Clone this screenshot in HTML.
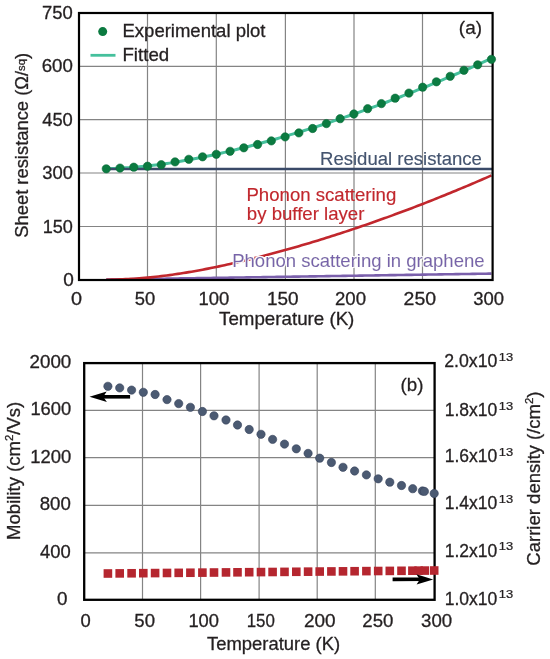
<!DOCTYPE html><html><head><meta charset="utf-8"><style>html,body{margin:0;padding:0;background:#fff;}svg{display:block;}text{font-family:"Liberation Sans",Arial,Helvetica,sans-serif;paint-order:stroke;}</style></head><body>
<svg width="550" height="659" viewBox="0 0 550 659">
<rect width="550" height="659" fill="#fff"/>
<line x1="147.5" y1="13" x2="147.5" y2="280" stroke="#848484" stroke-width="1.2"/>
<line x1="216.3" y1="13" x2="216.3" y2="280" stroke="#848484" stroke-width="1.2"/>
<line x1="285.4" y1="13" x2="285.4" y2="280" stroke="#848484" stroke-width="1.2"/>
<line x1="354.0" y1="13" x2="354.0" y2="280" stroke="#848484" stroke-width="1.2"/>
<line x1="422.5" y1="13" x2="422.5" y2="280" stroke="#848484" stroke-width="1.2"/>
<line x1="79" y1="66.3" x2="492.6" y2="66.3" stroke="#848484" stroke-width="1.2"/>
<line x1="79" y1="119.7" x2="492.6" y2="119.7" stroke="#848484" stroke-width="1.2"/>
<line x1="79" y1="173.0" x2="492.6" y2="173.0" stroke="#848484" stroke-width="1.2"/>
<line x1="79" y1="226.5" x2="492.6" y2="226.5" stroke="#848484" stroke-width="1.2"/>
<polyline points="106.26,168.73 109.02,168.63 111.77,168.52 114.52,168.41 117.27,168.28 120.02,168.14 122.77,167.99 125.52,167.83 128.28,167.66 131.03,167.47 133.78,167.26 136.53,167.04 139.28,166.80 142.03,166.54 144.78,166.27 147.53,165.98 150.29,165.68 153.04,165.36 155.79,165.02 158.54,164.67 161.29,164.30 164.04,163.92 166.79,163.52 169.55,163.11 172.30,162.68 175.05,162.24 177.80,161.79 180.55,161.32 183.30,160.85 186.05,160.35 188.81,159.85 191.56,159.34 194.31,158.81 197.06,158.27 199.81,157.72 202.56,157.17 205.31,156.60 208.07,156.02 210.82,155.43 213.57,154.83 216.32,154.22 219.07,153.60 221.82,152.97 224.57,152.34 227.33,151.69 230.08,151.04 232.83,150.37 235.58,149.70 238.33,149.02 241.08,148.34 243.83,147.64 246.59,146.94 249.34,146.22 252.09,145.50 254.84,144.78 257.59,144.04 260.34,143.30 263.09,142.55 265.85,141.79 268.60,141.03 271.35,140.26 274.10,139.48 276.85,138.69 279.60,137.90 282.35,137.10 285.11,136.29 287.86,135.48 290.61,134.66 293.36,133.84 296.11,133.00 298.86,132.16 301.61,131.32 304.36,130.46 307.12,129.60 309.87,128.74 312.62,127.86 315.37,126.99 318.12,126.10 320.87,125.21 323.62,124.31 326.38,123.41 329.13,122.50 331.88,121.58 334.63,120.66 337.38,119.73 340.13,118.80 342.88,117.86 345.64,116.91 348.39,115.96 351.14,115.00 353.89,114.03 356.64,113.06 359.39,112.08 362.14,111.10 364.90,110.11 367.65,109.12 370.40,108.12 373.15,107.11 375.90,106.10 378.65,105.08 381.40,104.06 384.16,103.03 386.91,101.99 389.66,100.95 392.41,99.90 395.16,98.85 397.91,97.79 400.66,96.73 403.42,95.66 406.17,94.58 408.92,93.50 411.67,92.41 414.42,91.32 417.17,90.22 419.92,89.12 422.67,88.01 425.43,86.89 428.18,85.77 430.93,84.64 433.68,83.51 436.43,82.37 439.18,81.23 441.93,80.08 444.69,78.93 447.44,77.77 450.19,76.60 452.94,75.43 455.69,74.25 458.44,73.07 461.19,71.88 463.95,70.69 466.70,69.49 469.45,68.28 472.20,67.07 474.95,65.86 477.70,64.63 480.45,63.41 483.21,62.17 485.96,60.94 488.71,59.69 491.46,58.44" fill="none" stroke="#45c09c" stroke-width="3"/>
<line x1="106.26" y1="169" x2="492.6" y2="169" stroke="#3a4a68" stroke-width="2.4"/>
<polyline points="106.26,279.57 109.02,279.53 111.77,279.49 114.52,279.44 117.27,279.40 120.02,279.36 122.77,279.32 125.52,279.27 128.28,279.23 131.03,279.19 133.78,279.15 136.53,279.10 139.28,279.06 142.03,279.02 144.78,278.97 147.53,278.93 150.29,278.89 153.04,278.85 155.79,278.80 158.54,278.76 161.29,278.72 164.04,278.68 166.79,278.63 169.55,278.59 172.30,278.55 175.05,278.50 177.80,278.46 180.55,278.42 183.30,278.38 186.05,278.33 188.81,278.29 191.56,278.25 194.31,278.21 197.06,278.16 199.81,278.12 202.56,278.08 205.31,278.03 208.07,277.99 210.82,277.95 213.57,277.91 216.32,277.86 219.07,277.82 221.82,277.78 224.57,277.74 227.33,277.69 230.08,277.65 232.83,277.61 235.58,277.56 238.33,277.52 241.08,277.48 243.83,277.44 246.59,277.39 249.34,277.35 252.09,277.31 254.84,277.27 257.59,277.22 260.34,277.18 263.09,277.14 265.85,277.10 268.60,277.05 271.35,277.01 274.10,276.97 276.85,276.92 279.60,276.88 282.35,276.84 285.11,276.80 287.86,276.75 290.61,276.71 293.36,276.67 296.11,276.63 298.86,276.58 301.61,276.54 304.36,276.50 307.12,276.45 309.87,276.41 312.62,276.37 315.37,276.33 318.12,276.28 320.87,276.24 323.62,276.20 326.38,276.16 329.13,276.11 331.88,276.07 334.63,276.03 337.38,275.98 340.13,275.94 342.88,275.90 345.64,275.86 348.39,275.81 351.14,275.77 353.89,275.73 356.64,275.69 359.39,275.64 362.14,275.60 364.90,275.56 367.65,275.51 370.40,275.47 373.15,275.43 375.90,275.39 378.65,275.34 381.40,275.30 384.16,275.26 386.91,275.22 389.66,275.17 392.41,275.13 395.16,275.09 397.91,275.04 400.66,275.00 403.42,274.96 406.17,274.92 408.92,274.87 411.67,274.83 414.42,274.79 417.17,274.75 419.92,274.70 422.67,274.66 425.43,274.62 428.18,274.57 430.93,274.53 433.68,274.49 436.43,274.45 439.18,274.40 441.93,274.36 444.69,274.32 447.44,274.28 450.19,274.23 452.94,274.19 455.69,274.15 458.44,274.10 461.19,274.06 463.95,274.02 466.70,273.98 469.45,273.93 472.20,273.89 474.95,273.85 477.70,273.81 480.45,273.76 483.21,273.72 485.96,273.68 488.71,273.63 491.46,273.59" fill="none" stroke="#7a5fab" stroke-width="2.6"/>
<polyline points="106.26,279.73 109.02,279.68 111.77,279.61 114.52,279.54 117.27,279.46 120.02,279.36 122.77,279.26 125.52,279.14 128.28,279.00 131.03,278.85 133.78,278.69 136.53,278.51 139.28,278.32 142.03,278.10 144.78,277.87 147.53,277.63 150.29,277.37 153.04,277.09 155.79,276.79 158.54,276.49 161.29,276.16 164.04,275.82 166.79,275.47 169.55,275.10 172.30,274.71 175.05,274.32 177.80,273.91 180.55,273.48 183.30,273.05 186.05,272.60 188.81,272.14 191.56,271.67 194.31,271.18 197.06,270.69 199.81,270.18 202.56,269.67 205.31,269.14 208.07,268.60 210.82,268.06 213.57,267.50 216.32,266.93 219.07,266.36 221.82,265.77 224.57,265.18 227.33,264.58 230.08,263.96 232.83,263.34 235.58,262.72 238.33,262.08 241.08,261.43 243.83,260.78 246.59,260.12 249.34,259.45 252.09,258.77 254.84,258.09 257.59,257.40 260.34,256.70 263.09,255.99 265.85,255.28 268.60,254.55 271.35,253.83 274.10,253.09 276.85,252.35 279.60,251.60 282.35,250.84 285.11,250.08 287.86,249.31 290.61,248.53 293.36,247.74 296.11,246.95 298.86,246.16 301.61,245.35 304.36,244.54 307.12,243.73 309.87,242.90 312.62,242.07 315.37,241.24 318.12,240.40 320.87,239.55 323.62,238.69 326.38,237.83 329.13,236.96 331.88,236.09 334.63,235.21 337.38,234.32 340.13,233.43 342.88,232.53 345.64,231.63 348.39,230.72 351.14,229.80 353.89,228.88 356.64,227.95 359.39,227.02 362.14,226.08 364.90,225.13 367.65,224.18 370.40,223.22 373.15,222.26 375.90,221.29 378.65,220.32 381.40,219.33 384.16,218.35 386.91,217.35 389.66,216.36 392.41,215.35 395.16,214.34 397.91,213.33 400.66,212.30 403.42,211.28 406.17,210.24 408.92,209.20 411.67,208.16 414.42,207.11 417.17,206.05 419.92,204.99 422.67,203.93 425.43,202.85 428.18,201.77 430.93,200.69 433.68,199.60 436.43,198.51 439.18,197.40 441.93,196.30 444.69,195.19 447.44,194.07 450.19,192.94 452.94,191.82 455.69,190.68 458.44,189.54 461.19,188.40 463.95,187.24 466.70,186.09 469.45,184.93 472.20,183.76 474.95,182.58 477.70,181.41 480.45,180.22 483.21,179.03 485.96,177.84 488.71,176.64 491.46,175.43" fill="none" stroke="#c1272d" stroke-width="2.6"/>
<rect x="79" y="13" width="413.6" height="267" fill="none" stroke="#000" stroke-width="2.2"/>
<circle cx="106.26" cy="168.8" r="4.15" fill="#0b7b41" stroke="#086a37" stroke-width="0.6"/>
<circle cx="120.02" cy="168.1" r="4.15" fill="#0b7b41" stroke="#086a37" stroke-width="0.6"/>
<circle cx="133.78" cy="167.2" r="4.15" fill="#0b7b41" stroke="#086a37" stroke-width="0.6"/>
<circle cx="147.53" cy="166.2" r="4.15" fill="#0b7b41" stroke="#086a37" stroke-width="0.6"/>
<circle cx="161.29" cy="164.7" r="4.15" fill="#0b7b41" stroke="#086a37" stroke-width="0.6"/>
<circle cx="175.05" cy="161.9" r="4.15" fill="#0b7b41" stroke="#086a37" stroke-width="0.6"/>
<circle cx="188.81" cy="159.3" r="4.15" fill="#0b7b41" stroke="#086a37" stroke-width="0.6"/>
<circle cx="202.56" cy="156.8" r="4.15" fill="#0b7b41" stroke="#086a37" stroke-width="0.6"/>
<circle cx="216.32" cy="154.3" r="4.15" fill="#0b7b41" stroke="#086a37" stroke-width="0.6"/>
<circle cx="230.08" cy="151.3" r="4.15" fill="#0b7b41" stroke="#086a37" stroke-width="0.6"/>
<circle cx="243.83" cy="147.8" r="4.15" fill="#0b7b41" stroke="#086a37" stroke-width="0.6"/>
<circle cx="257.59" cy="144.5" r="4.15" fill="#0b7b41" stroke="#086a37" stroke-width="0.6"/>
<circle cx="271.35" cy="140.9" r="4.15" fill="#0b7b41" stroke="#086a37" stroke-width="0.6"/>
<circle cx="285.11" cy="136.9" r="4.15" fill="#0b7b41" stroke="#086a37" stroke-width="0.6"/>
<circle cx="298.86" cy="132.9" r="4.15" fill="#0b7b41" stroke="#086a37" stroke-width="0.6"/>
<circle cx="312.62" cy="128.5" r="4.15" fill="#0b7b41" stroke="#086a37" stroke-width="0.6"/>
<circle cx="326.38" cy="123.6" r="4.15" fill="#0b7b41" stroke="#086a37" stroke-width="0.6"/>
<circle cx="340.13" cy="118.7" r="4.15" fill="#0b7b41" stroke="#086a37" stroke-width="0.6"/>
<circle cx="353.89" cy="114" r="4.15" fill="#0b7b41" stroke="#086a37" stroke-width="0.6"/>
<circle cx="367.65" cy="108.7" r="4.15" fill="#0b7b41" stroke="#086a37" stroke-width="0.6"/>
<circle cx="381.40" cy="103.6" r="4.15" fill="#0b7b41" stroke="#086a37" stroke-width="0.6"/>
<circle cx="395.16" cy="98.2" r="4.15" fill="#0b7b41" stroke="#086a37" stroke-width="0.6"/>
<circle cx="408.92" cy="93.1" r="4.15" fill="#0b7b41" stroke="#086a37" stroke-width="0.6"/>
<circle cx="422.67" cy="87.2" r="4.15" fill="#0b7b41" stroke="#086a37" stroke-width="0.6"/>
<circle cx="436.43" cy="81.8" r="4.15" fill="#0b7b41" stroke="#086a37" stroke-width="0.6"/>
<circle cx="450.19" cy="76.3" r="4.15" fill="#0b7b41" stroke="#086a37" stroke-width="0.6"/>
<circle cx="463.95" cy="70.3" r="4.15" fill="#0b7b41" stroke="#086a37" stroke-width="0.6"/>
<circle cx="477.70" cy="64.8" r="4.15" fill="#0b7b41" stroke="#086a37" stroke-width="0.6"/>
<circle cx="491.46" cy="59.3" r="4.15" fill="#0b7b41" stroke="#086a37" stroke-width="0.6"/>
<circle cx="102.7" cy="31.6" r="4.5" fill="#0b7a40"/>
<line x1="90.5" y1="55.3" x2="115.5" y2="55.3" stroke="#45c09c" stroke-width="2.8"/>
<text transform="translate(122.48,36.80) scale(1.0293,1)" font-size="18.0" fill="#231f20" stroke="#231f20" stroke-width="0.3">Experimental plot</text>
<text transform="translate(122.47,60.60) scale(1.0380,1)" font-size="18.0" fill="#231f20" stroke="#231f20" stroke-width="0.3">Fitted</text>
<text transform="translate(458.83,33.60) scale(1.0524,1)" font-size="18.0" fill="#231f20" stroke="#231f20" stroke-width="0.25">(a)</text>
<text transform="translate(319.98,164.80) scale(1.0544,1)" font-size="17.6" fill="#44546f" stroke="#44546f" stroke-width="0.15">Residual resistance</text>
<text transform="translate(246.47,201.40) scale(1.0567,1)" font-size="17.6" fill="#c1272d" stroke="#c1272d" stroke-width="0.15">Phonon scattering</text>
<text transform="translate(246.79,219.80) scale(1.0587,1)" font-size="17.6" fill="#c1272d" stroke="#c1272d" stroke-width="0.15">by buffer layer</text>
<defs><filter id="halo" x="-5%" y="-30%" width="110%" height="160%"><feMorphology in="SourceAlpha" operator="dilate" radius="1.1" result="d"/><feFlood flood-color="#fff"/><feComposite in2="d" operator="in" result="w"/><feMerge><feMergeNode in="w"/><feMergeNode in="SourceGraphic"/></feMerge></filter></defs>
<text transform="translate(232.18,267.30) scale(1.0538,1)" font-size="17.6" fill="#7762aa" stroke="#7762aa" stroke-width="0.15" filter="url(#halo)">Phonon scattering in graphene</text>
<text transform="translate(41.96,18.80) scale(1.0245,1)" font-size="18.0" fill="#231f20" stroke="#231f20" stroke-width="0.3">750</text>
<text transform="translate(41.65,72.40) scale(1.0386,1)" font-size="18.0" fill="#231f20" stroke="#231f20" stroke-width="0.3">600</text>
<text transform="translate(42.18,125.90) scale(1.0205,1)" font-size="18.0" fill="#231f20" stroke="#231f20" stroke-width="0.3">450</text>
<text transform="translate(42.20,179.20) scale(1.0231,1)" font-size="18.0" fill="#231f20" stroke="#231f20" stroke-width="0.3">300</text>
<text transform="translate(42.72,232.60) scale(1.0052,1)" font-size="18.0" fill="#231f20" stroke="#231f20" stroke-width="0.3">150</text>
<text transform="translate(63.26,285.80) scale(1.0576,1)" font-size="18.0" fill="#231f20" stroke="#231f20" stroke-width="0.3">0</text>
<text transform="translate(71.02,304.80) scale(1.1041,1)" font-size="18.0" fill="#231f20" stroke="#231f20" stroke-width="0.3">0</text>
<text transform="translate(134.76,304.80) scale(1.0218,1)" font-size="18.0" fill="#231f20" stroke="#231f20" stroke-width="0.3">50</text>
<text transform="translate(198.50,304.80) scale(1.0267,1)" font-size="18.0" fill="#231f20" stroke="#231f20" stroke-width="0.3">100</text>
<text transform="translate(267.06,304.80) scale(1.0517,1)" font-size="18.0" fill="#231f20" stroke="#231f20" stroke-width="0.3">150</text>
<text transform="translate(334.97,304.80) scale(1.0344,1)" font-size="18.0" fill="#231f20" stroke="#231f20" stroke-width="0.3">200</text>
<text transform="translate(403.62,304.80) scale(1.0837,1)" font-size="18.0" fill="#231f20" stroke="#231f20" stroke-width="0.3">250</text>
<text transform="translate(473.30,304.80) scale(1.0266,1)" font-size="18.0" fill="#231f20" stroke="#231f20" stroke-width="0.3">300</text>
<text transform="translate(219.09,324.90) scale(1.0409,1)" font-size="18.0" fill="#231f20" stroke="#231f20" stroke-width="0.3">Temperature (K)</text>
<text transform="translate(28.0,237.7) rotate(-90) scale(0.988,1)" font-size="18.6" fill="#231f20" stroke="#231f20" stroke-width="0.3">Sheet resistance (Ω/<tspan font-size="11.4" dy="-2.6">sq</tspan><tspan dy="2.6">)</tspan></text>
<line x1="142.5" y1="363.1" x2="142.5" y2="599.8" stroke="#848484" stroke-width="1.2"/>
<line x1="200.6" y1="363.1" x2="200.6" y2="599.8" stroke="#848484" stroke-width="1.2"/>
<line x1="259.1" y1="363.1" x2="259.1" y2="599.8" stroke="#848484" stroke-width="1.2"/>
<line x1="317.2" y1="363.1" x2="317.2" y2="599.8" stroke="#848484" stroke-width="1.2"/>
<line x1="375.3" y1="363.1" x2="375.3" y2="599.8" stroke="#848484" stroke-width="1.2"/>
<line x1="84.2" y1="410.4" x2="434.6" y2="410.4" stroke="#848484" stroke-width="1.2"/>
<line x1="84.2" y1="457.6" x2="434.6" y2="457.6" stroke="#848484" stroke-width="1.2"/>
<line x1="84.2" y1="505.3" x2="434.6" y2="505.3" stroke="#848484" stroke-width="1.2"/>
<line x1="84.2" y1="552.8" x2="434.6" y2="552.8" stroke="#848484" stroke-width="1.2"/>
<rect x="84.2" y="363.1" width="350.4" height="236.7" fill="none" stroke="#000" stroke-width="2.3"/>
<circle cx="107.9" cy="386.3" r="4.15" fill="#4b5a72" stroke="#36425a" stroke-width="0.6"/>
<circle cx="119.7" cy="387.9" r="4.15" fill="#4b5a72" stroke="#36425a" stroke-width="0.6"/>
<circle cx="131.6" cy="390.1" r="4.15" fill="#4b5a72" stroke="#36425a" stroke-width="0.6"/>
<circle cx="143.3" cy="392.3" r="4.15" fill="#4b5a72" stroke="#36425a" stroke-width="0.6"/>
<circle cx="155.1" cy="394.5" r="4.15" fill="#4b5a72" stroke="#36425a" stroke-width="0.6"/>
<circle cx="167" cy="399.6" r="4.15" fill="#4b5a72" stroke="#36425a" stroke-width="0.6"/>
<circle cx="178.7" cy="403.6" r="4.15" fill="#4b5a72" stroke="#36425a" stroke-width="0.6"/>
<circle cx="190.4" cy="407.3" r="4.15" fill="#4b5a72" stroke="#36425a" stroke-width="0.6"/>
<circle cx="202.4" cy="411.5" r="4.15" fill="#4b5a72" stroke="#36425a" stroke-width="0.6"/>
<circle cx="214" cy="415.8" r="4.15" fill="#4b5a72" stroke="#36425a" stroke-width="0.6"/>
<circle cx="226" cy="420" r="4.15" fill="#4b5a72" stroke="#36425a" stroke-width="0.6"/>
<circle cx="237.5" cy="425" r="4.15" fill="#4b5a72" stroke="#36425a" stroke-width="0.6"/>
<circle cx="249.2" cy="429.5" r="4.15" fill="#4b5a72" stroke="#36425a" stroke-width="0.6"/>
<circle cx="261" cy="434.3" r="4.15" fill="#4b5a72" stroke="#36425a" stroke-width="0.6"/>
<circle cx="272.6" cy="439.4" r="4.15" fill="#4b5a72" stroke="#36425a" stroke-width="0.6"/>
<circle cx="284.5" cy="444.1" r="4.15" fill="#4b5a72" stroke="#36425a" stroke-width="0.6"/>
<circle cx="296.3" cy="448.8" r="4.15" fill="#4b5a72" stroke="#36425a" stroke-width="0.6"/>
<circle cx="308.1" cy="453.4" r="4.15" fill="#4b5a72" stroke="#36425a" stroke-width="0.6"/>
<circle cx="319.7" cy="458.2" r="4.15" fill="#4b5a72" stroke="#36425a" stroke-width="0.6"/>
<circle cx="331.4" cy="462.5" r="4.15" fill="#4b5a72" stroke="#36425a" stroke-width="0.6"/>
<circle cx="343" cy="467.3" r="4.15" fill="#4b5a72" stroke="#36425a" stroke-width="0.6"/>
<circle cx="354.6" cy="471" r="4.15" fill="#4b5a72" stroke="#36425a" stroke-width="0.6"/>
<circle cx="366.4" cy="474.9" r="4.15" fill="#4b5a72" stroke="#36425a" stroke-width="0.6"/>
<circle cx="378.2" cy="478.8" r="4.15" fill="#4b5a72" stroke="#36425a" stroke-width="0.6"/>
<circle cx="389.8" cy="482.2" r="4.15" fill="#4b5a72" stroke="#36425a" stroke-width="0.6"/>
<circle cx="401.5" cy="485.5" r="4.15" fill="#4b5a72" stroke="#36425a" stroke-width="0.6"/>
<circle cx="412.7" cy="488.7" r="4.15" fill="#4b5a72" stroke="#36425a" stroke-width="0.6"/>
<circle cx="422.4" cy="491.0" r="4.15" fill="#4b5a72" stroke="#36425a" stroke-width="0.6"/>
<circle cx="424.4" cy="491.4" r="4.15" fill="#4b5a72" stroke="#36425a" stroke-width="0.6"/>
<circle cx="434.2" cy="493.5" r="4.15" fill="#4b5a72" stroke="#36425a" stroke-width="0.6"/>
<rect x="103.60" y="569.20" width="8.6" height="8.6" fill="#b5262f"/>
<rect x="115.40" y="569.09" width="8.6" height="8.6" fill="#b5262f"/>
<rect x="127.30" y="568.98" width="8.6" height="8.6" fill="#b5262f"/>
<rect x="139.00" y="568.88" width="8.6" height="8.6" fill="#b5262f"/>
<rect x="150.80" y="568.77" width="8.6" height="8.6" fill="#b5262f"/>
<rect x="162.70" y="568.66" width="8.6" height="8.6" fill="#b5262f"/>
<rect x="174.40" y="568.55" width="8.6" height="8.6" fill="#b5262f"/>
<rect x="186.10" y="568.44" width="8.6" height="8.6" fill="#b5262f"/>
<rect x="198.10" y="568.33" width="8.6" height="8.6" fill="#b5262f"/>
<rect x="209.70" y="568.22" width="8.6" height="8.6" fill="#b5262f"/>
<rect x="221.70" y="568.11" width="8.6" height="8.6" fill="#b5262f"/>
<rect x="233.20" y="568.01" width="8.6" height="8.6" fill="#b5262f"/>
<rect x="244.90" y="567.90" width="8.6" height="8.6" fill="#b5262f"/>
<rect x="256.70" y="567.79" width="8.6" height="8.6" fill="#b5262f"/>
<rect x="268.30" y="567.69" width="8.6" height="8.6" fill="#b5262f"/>
<rect x="280.20" y="567.58" width="8.6" height="8.6" fill="#b5262f"/>
<rect x="292.00" y="567.47" width="8.6" height="8.6" fill="#b5262f"/>
<rect x="303.80" y="567.36" width="8.6" height="8.6" fill="#b5262f"/>
<rect x="315.40" y="567.25" width="8.6" height="8.6" fill="#b5262f"/>
<rect x="327.10" y="567.14" width="8.6" height="8.6" fill="#b5262f"/>
<rect x="338.70" y="567.04" width="8.6" height="8.6" fill="#b5262f"/>
<rect x="350.30" y="566.93" width="8.6" height="8.6" fill="#b5262f"/>
<rect x="362.10" y="566.82" width="8.6" height="8.6" fill="#b5262f"/>
<rect x="373.90" y="566.71" width="8.6" height="8.6" fill="#b5262f"/>
<rect x="385.50" y="566.61" width="8.6" height="8.6" fill="#b5262f"/>
<rect x="397.20" y="566.50" width="8.6" height="8.6" fill="#b5262f"/>
<rect x="408.10" y="566.40" width="8.6" height="8.6" fill="#b5262f"/>
<rect x="414.30" y="566.34" width="8.6" height="8.6" fill="#b5262f"/>
<rect x="420.50" y="566.28" width="8.6" height="8.6" fill="#b5262f"/>
<rect x="429.90" y="566.20" width="8.6" height="8.6" fill="#b5262f"/>
<line x1="99" y1="396.8" x2="130.1" y2="396.8" stroke="#000" stroke-width="3.6"/>
<path d="M89.5,396.8 L106.7,391.6 L103.2,396.8 L106.9,402 Z" fill="#000"/>
<line x1="392.6" y1="579.4" x2="423" y2="579.3" stroke="#000" stroke-width="3.6"/>
<path d="M433.2,579.4 L416.4,574.3 L419.8,579.4 L416.6,584.4 Z" fill="#000"/>
<text transform="translate(400.54,391.20) scale(1.0423,1)" font-size="18.0" fill="#231f20" stroke="#231f20" stroke-width="0.25">(b)</text>
<text transform="translate(29.56,367.50) scale(1.0435,1)" font-size="18.0" fill="#231f20" stroke="#231f20" stroke-width="0.3">2000</text>
<text transform="translate(30.41,415.30) scale(1.0194,1)" font-size="18.0" fill="#231f20" stroke="#231f20" stroke-width="0.3">1600</text>
<text transform="translate(30.20,462.90) scale(1.0247,1)" font-size="18.0" fill="#231f20" stroke="#231f20" stroke-width="0.3">1200</text>
<text transform="translate(39.70,510.20) scale(1.0369,1)" font-size="18.0" fill="#231f20" stroke="#231f20" stroke-width="0.3">800</text>
<text transform="translate(40.08,557.60) scale(1.0239,1)" font-size="18.0" fill="#231f20" stroke="#231f20" stroke-width="0.3">400</text>
<text transform="translate(56.97,605.00) scale(1.0460,1)" font-size="18.0" fill="#231f20" stroke="#231f20" stroke-width="0.3">0</text>
<text transform="translate(444.21,367.00) scale(0.9841,1)" font-size="18.0" fill="#231f20" stroke="#231f20" stroke-width="0.3">2.0x10</text>
<text transform="translate(498.72,360.50) scale(1.1123,1)" font-size="11.6" fill="#231f20" stroke="#231f20" stroke-width="0.25">13</text>
<text transform="translate(444.77,416.10) scale(0.9737,1)" font-size="18.0" fill="#231f20" stroke="#231f20" stroke-width="0.3">1.8x10</text>
<text transform="translate(498.72,409.60) scale(1.1123,1)" font-size="11.6" fill="#231f20" stroke="#231f20" stroke-width="0.25">13</text>
<text transform="translate(444.77,462.40) scale(0.9737,1)" font-size="18.0" fill="#231f20" stroke="#231f20" stroke-width="0.3">1.6x10</text>
<text transform="translate(498.72,455.90) scale(1.1123,1)" font-size="11.6" fill="#231f20" stroke="#231f20" stroke-width="0.25">13</text>
<text transform="translate(444.77,509.40) scale(0.9737,1)" font-size="18.0" fill="#231f20" stroke="#231f20" stroke-width="0.3">1.4x10</text>
<text transform="translate(498.72,502.90) scale(1.1123,1)" font-size="11.6" fill="#231f20" stroke="#231f20" stroke-width="0.25">13</text>
<text transform="translate(444.77,556.50) scale(0.9737,1)" font-size="18.0" fill="#231f20" stroke="#231f20" stroke-width="0.3">1.2x10</text>
<text transform="translate(498.72,550.00) scale(1.1123,1)" font-size="11.6" fill="#231f20" stroke="#231f20" stroke-width="0.25">13</text>
<text transform="translate(444.77,604.90) scale(0.9737,1)" font-size="18.0" fill="#231f20" stroke="#231f20" stroke-width="0.3">1.0x10</text>
<text transform="translate(498.72,598.40) scale(1.1123,1)" font-size="11.6" fill="#231f20" stroke="#231f20" stroke-width="0.25">13</text>
<text transform="translate(80.48,627.00) scale(1.0228,1)" font-size="18.0" fill="#231f20" stroke="#231f20" stroke-width="0.3">0</text>
<text transform="translate(134.36,627.00) scale(1.0326,1)" font-size="18.0" fill="#231f20" stroke="#231f20" stroke-width="0.3">50</text>
<text transform="translate(188.41,627.00) scale(1.0195,1)" font-size="18.0" fill="#231f20" stroke="#231f20" stroke-width="0.3">100</text>
<text transform="translate(246.72,627.00) scale(0.9373,1)" font-size="18.0" fill="#231f20" stroke="#231f20" stroke-width="0.3">150</text>
<text transform="translate(303.95,627.00) scale(1.0555,1)" font-size="18.0" fill="#231f20" stroke="#231f20" stroke-width="0.3">200</text>
<text transform="translate(362.37,627.00) scale(1.0344,1)" font-size="18.0" fill="#231f20" stroke="#231f20" stroke-width="0.3">250</text>
<text transform="translate(421.09,627.00) scale(1.0371,1)" font-size="18.0" fill="#231f20" stroke="#231f20" stroke-width="0.3">300</text>
<text transform="translate(206.99,649.80) scale(1.0246,1)" font-size="18.0" fill="#231f20" stroke="#231f20" stroke-width="0.3">Temperature (K)</text>
<text transform="translate(20.2,539.9) rotate(-90) scale(1.031,1)" font-size="18" fill="#231f20" stroke="#231f20" stroke-width="0.3">Mobility (cm<tspan font-size="11" dy="-7">2</tspan><tspan dy="7">/Vs)</tspan></text>
<text transform="translate(539.5,565.7) rotate(-90) scale(1.03,1)" font-size="18" fill="#231f20" stroke="#231f20" stroke-width="0.3">Carrier density (/cm<tspan font-size="11" dy="-7">2</tspan><tspan dy="7">)</tspan></text>
</svg></body></html>
